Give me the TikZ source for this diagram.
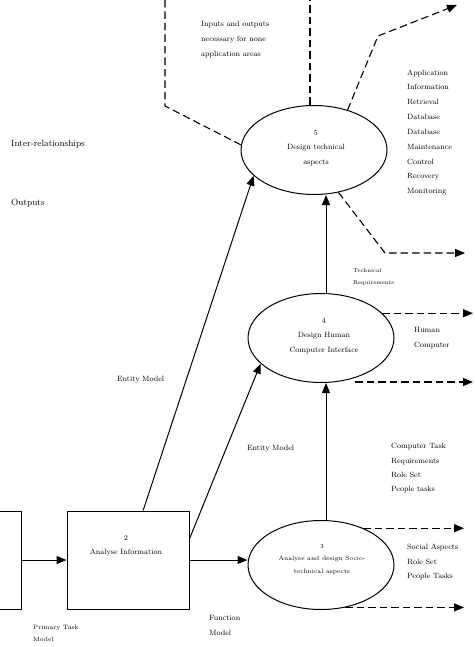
\documentclass[tikz,border=0pt]{standalone}
\usetikzlibrary{arrows.meta,shapes.geometric,calc}
\begin{document}
\begin{tikzpicture}[x=1pt,y=-1pt,
  ell/.style={draw,line width=1pt,ellipse,minimum width=146pt,minimum height=89pt,inner sep=0pt},
  boxnode/.style={draw,line width=1pt,minimum width=122pt,minimum height=98pt,inner sep=0pt},
  arr/.style={line width=1pt,-{Triangle[length=10pt,width=8pt]}},
  dsh/.style={line width=1.1pt,dash pattern=on 7.5pt off 4pt},
  darr/.style={dsh,-{Triangle[length=10pt,width=8pt]}},
  txt/.style={font=\fontsize{7.6}{15}\selectfont,align=left,inner sep=0pt,anchor=west},
  ctxt/.style={font=\fontsize{7.6}{14.5}\selectfont,align=center,inner sep=0pt},
  small/.style={font=\fontsize{6.2}{12}\selectfont,align=left,inner sep=0pt,anchor=west},
  side/.style={font=\fontsize{9}{11}\selectfont,inner sep=0pt,anchor=west}
]
\useasboundingbox (0,0) rectangle (474,647);

% process nodes
\node[ell] (e5) at (314,150) {};
\node[ell] (e4) at (321,338) {};
\node[ell] (e3) at (321,565) {};
\node[boxnode] (b2) at (128,560) {};
\node[boxnode] (b1) at (-40,560) {};

% texts in nodes
\node[ctxt] (t5) at (316,148) {5\\Design technical\\aspects};
\node[ctxt] (t4) at (324,336) {4\\Design Human\\Computer Interface};
\node[ctxt,font=\fontsize{6.2}{12.5}\selectfont] (t3) at (322,559.5) {3\\Analyse and design Socio-\\technical aspects};
\node[ctxt,font=\fontsize{7.6}{14}\selectfont] (t2) at (126,546) {2\\Analyse Information};

% solid connectors
\coordinate (vx) at (326,0);
\draw[arr] (b1.east) -- (b2.west);
\draw[arr] (b2.east) -- (b2.east -| e3.west);
\draw[arr] (b2.73) -- (e5.203);
\draw[arr] (b2.19) -- (e4.203);
\draw[arr] (e3.north -| vx) -- (e4.south -| vx);
\draw[arr] (e4.north -| vx) -- (e5.south -| vx);

% dashed connectors
\coordinate (tl) at (165,106);
\coordinate (tlt) at (165,0);
\draw[dsh] (e5.176) -- (tl) -- (tlt);
\coordinate (tm) at (310,0);
\draw[dsh] (e5.north -| tm) -- (tm);
\coordinate (ur1) at (378,36);
\coordinate (ur2) at (457,5);
\draw[darr] (e5.50) -- (ur1) -- (ur2);
\coordinate (lr1) at (385,253);
\coordinate (lr2) at (465,253);
\draw[darr] (e5.300) -- (lr1) -- (lr2);
\coordinate (rx) at (473,0);
\draw[darr] (e4.22) -- (e4.22 -| rx);
\coordinate (e4b) at ([xshift=34pt,yshift=1pt]e4.south);
\draw[darr] (e4b) -- (e4b -| rx);
\coordinate (rx3) at (464,0);
\draw[darr] (e3.41) -- (e3.41 -| rx3);
\draw[darr] (e3.300) -- (e3.300 -| rx3);

% labels
\node[side] (l1) at (11,144) {Inter-relationships};
\node[side] (l2) at (11,203) {Outputs};
\node[txt] (l3) at (201,40) {Inputs and outputs\\necessary for none\\application areas};
\node[txt,font=\fontsize{7.6}{14.85}\selectfont] (l4) at (407,132.5) {Application\\Information\\Retrieval\\Database\\Database\\Maintenance\\Control\\Recovery\\Monitoring};
\node[small,font=\fontsize{5.6}{12}\selectfont] (l5) at (353,277) {Technical\\Requirements};
\node[txt] (l6) at (414,338.5) {Human\\Computer};
\node[txt] (l7) at (117,380) {Entity Model};
\node[txt] (l8) at (247,449) {Entity Model};
\node[txt,font=\fontsize{7.6}{14.3}\selectfont] (l9) at (391,468.5) {Computer Task\\Requirements\\Role Set\\People tasks};
\node[txt,font=\fontsize{7.6}{14.5}\selectfont] (l10) at (407,562.5) {Social Aspects\\Role Set\\People Tasks};
\node[small] (l11) at (33,633) {Primary Task\\Model};
\node[txt] (l12) at (209,625.5) {Function\\Model};
\end{tikzpicture}
\end{document}
